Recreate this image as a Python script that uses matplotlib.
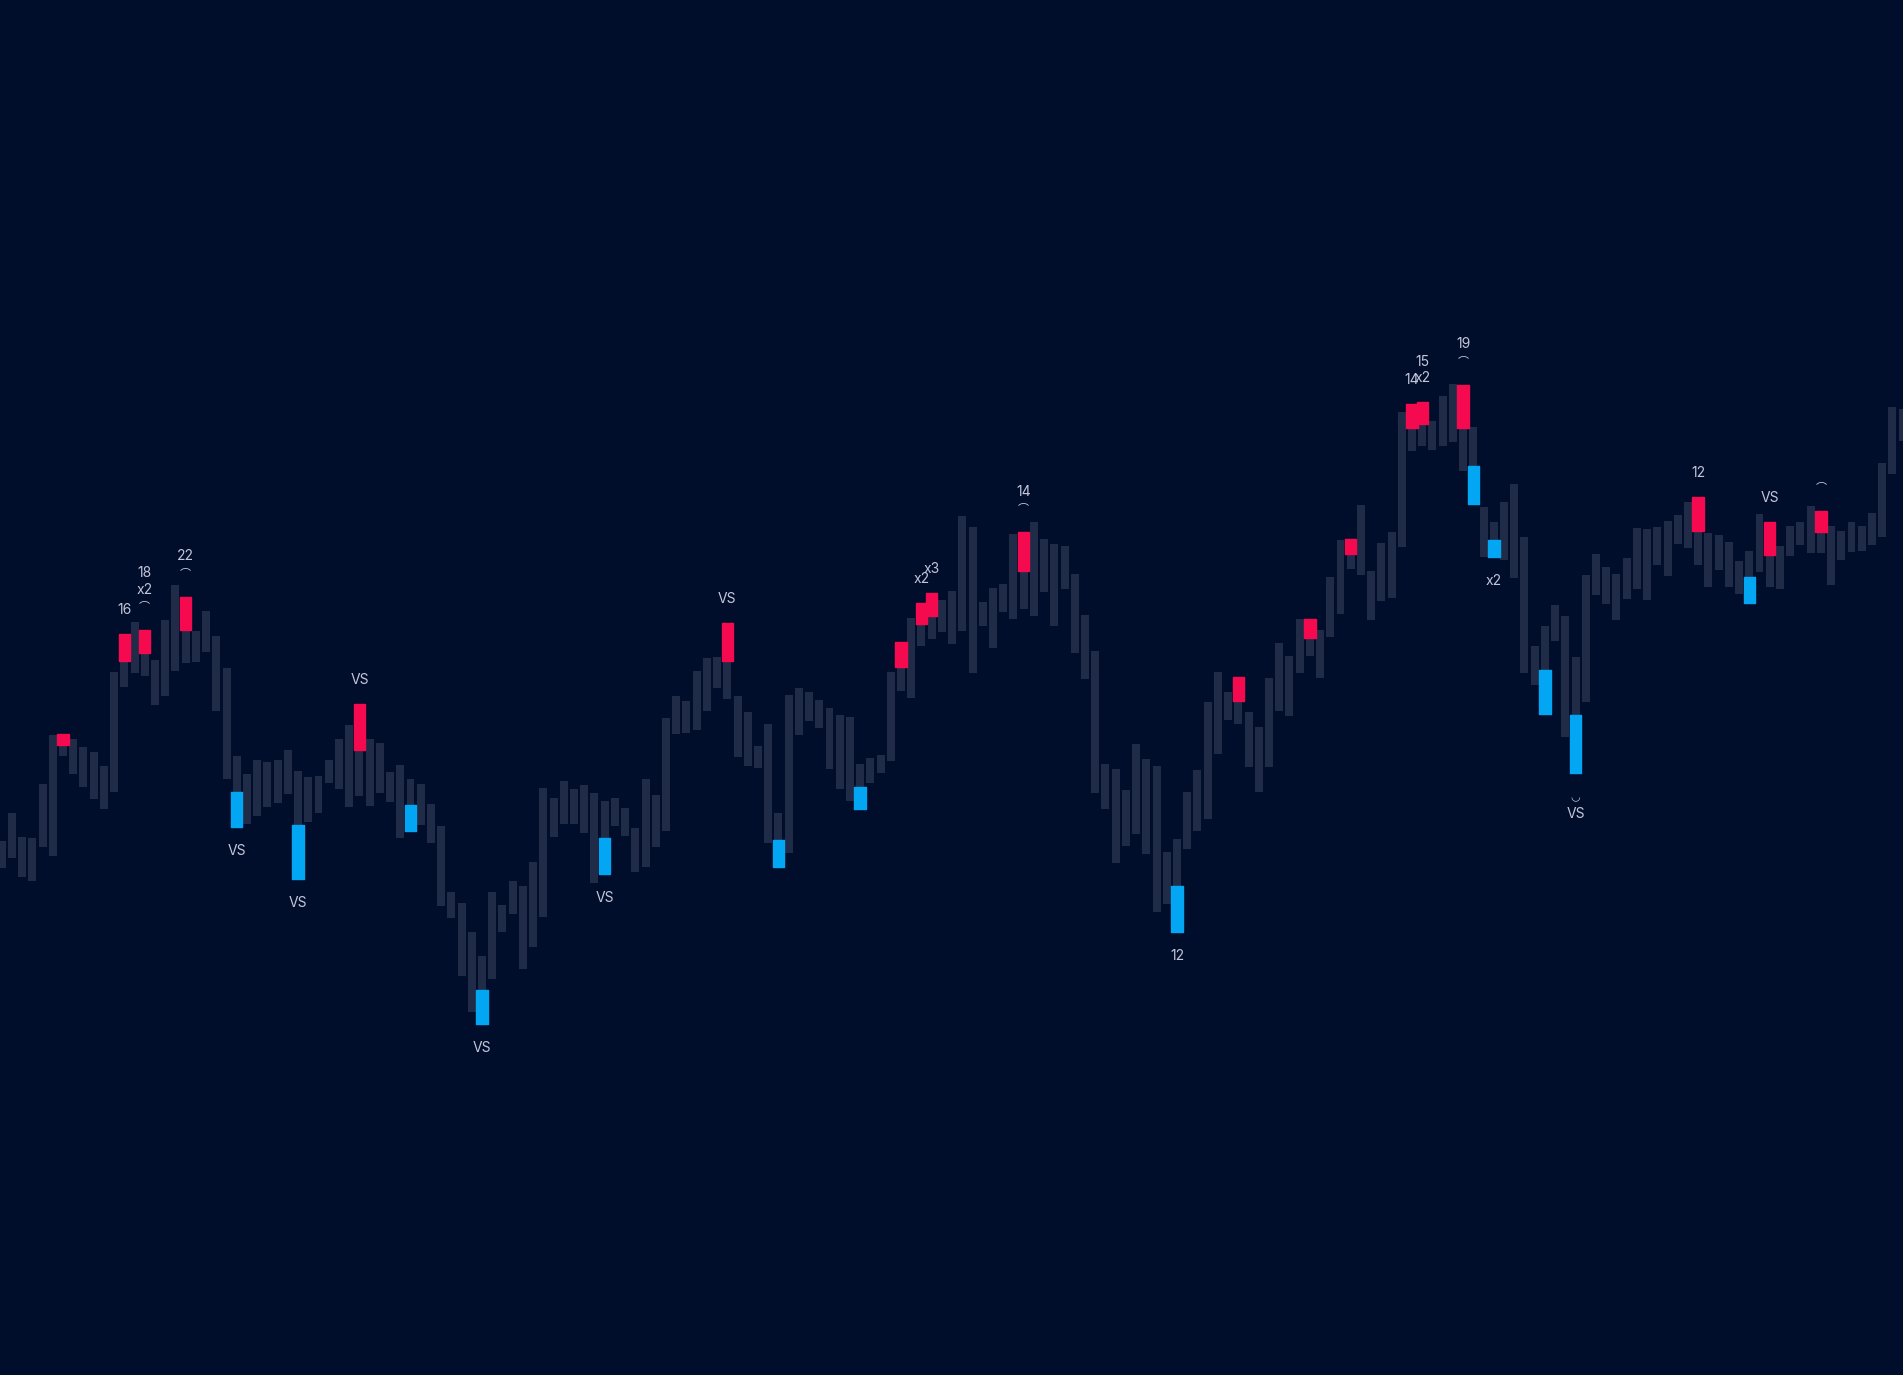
import matplotlib
matplotlib.use("Agg")
import matplotlib.pyplot as plt
import numpy as np

# bar ranges (low, high) for each session
lows = [
    50.7, 51.7, 49.8, 49.4, 52.8, 51.9, 61.9, 60.1, 58.8, 57.6,
    56.6, 58.3, 68.8, 70.2, 69.9, 67.0, 67.9, 70.4, 71.2, 71.3,
    72.3, 66.4, 59.6, 54.8, 55.1, 55.9, 56.8, 57.2, 58.1, 49.6,
    55.3, 56.2, 59.2, 58.6, 56.8, 57.9, 56.9, 58.2, 57.3, 53.7,
    54.4, 55.0, 53.2, 46.9, 45.7, 39.9, 36.3, 35.1, 39.6, 44.3,
    46.1, 40.6, 42.8, 45.8, 53.8, 55.1, 55.1, 54.2, 49.2, 50.1,
    54.9, 53.9, 50.3, 50.8, 52.8, 54.4, 64.1, 64.2, 64.5, 66.4,
    68.7, 67.6, 61.8, 60.9, 60.7, 53.2, 50.8, 52.2, 64.0, 65.4,
    64.7, 60.6, 58.6, 57.4, 56.6, 59.2, 60.2, 61.4, 68.4, 67.7,
    72.9, 73.6, 74.3, 73.1, 74.4, 70.2, 74.9, 72.7, 76.3, 75.6,
    76.6, 75.9, 78.3, 74.9, 78.6, 72.2, 69.6, 58.2, 56.6, 51.2,
    52.9, 54.1, 52.1, 46.3, 47.1, 44.3, 52.6, 54.4, 55.6, 62.1,
    65.5, 65.1, 60.8, 58.3, 60.8, 66.4, 65.9, 70.2, 71.9, 69.7,
    73.8, 76.1, 80.6, 80.0, 75.5, 77.4, 77.7, 82.8, 92.4, 92.9,
    92.5, 92.9, 93.3, 90.4, 87.1, 81.8, 81.8, 81.5, 79.7, 70.2,
    69.0, 66.1, 73.4, 63.8, 60.2, 67.3, 78.0, 77.1, 75.5, 77.6,
    78.6, 77.5, 81.0, 79.9, 83.1, 82.7, 81.0, 78.8, 80.5, 78.8,
    78.1, 77.2, 80.3, 78.8, 78.6, 81.9, 83.0, 82.2, 82.2, 79.0,
    81.5, 82.3, 82.4, 83.0, 83.8, 90.1, 93.4,
]
highs = [
    53.4, 56.2, 53.8, 53.7, 59.1, 64.0, 64.1, 63.6, 62.8, 62.3,
    60.9, 70.3, 74.1, 75.3, 74.5, 71.5, 75.5, 79.0, 77.8, 74.4,
    76.4, 73.9, 70.7, 61.9, 60.1, 61.5, 61.3, 61.5, 62.5, 60.4,
    59.8, 59.9, 61.5, 63.6, 65.0, 67.1, 63.6, 63.2, 60.3, 61.0,
    59.6, 59.1, 57.1, 54.9, 48.3, 47.2, 44.3, 41.9, 48.3, 47.0,
    49.4, 48.9, 51.3, 58.7, 57.7, 59.4, 58.6, 59.0, 58.2, 57.4,
    57.7, 56.7, 54.7, 59.6, 58.0, 65.7, 67.9, 67.4, 70.4, 71.7,
    71.8, 75.2, 67.9, 66.3, 62.9, 65.1, 56.2, 68.0, 68.7, 68.3,
    67.5, 66.7, 66.0, 65.8, 61.1, 61.7, 62.0, 70.3, 73.3, 75.7,
    77.2, 78.2, 77.5, 78.4, 85.9, 84.8, 77.3, 78.7, 79.1, 84.1,
    84.3, 85.3, 83.6, 83.1, 82.9, 80.1, 76.0, 72.4, 61.1, 60.6,
    58.5, 63.1, 61.6, 60.9, 52.3, 53.6, 58.3, 60.5, 67.3, 70.3,
    68.3, 69.8, 66.3, 64.8, 69.7, 73.2, 71.9, 75.6, 75.6, 74.5,
    79.8, 83.5, 83.6, 87.0, 80.4, 83.2, 84.3, 96.3, 97.1, 97.3,
    95.4, 97.9, 99.1, 99.0, 94.8, 86.8, 85.3, 87.3, 89.1, 83.8,
    72.9, 74.9, 77.0, 75.9, 71.8, 80.0, 82.1, 80.8, 80.1, 81.7,
    84.7, 84.6, 84.8, 85.4, 86.0, 87.3, 87.8, 84.2, 84.0, 83.3,
    81.4, 82.4, 86.1, 85.3, 82.9, 84.9, 85.3, 86.9, 86.4, 84.9,
    84.4, 85.3, 84.9, 86.2, 91.2, 96.8, 96.6,
]

# signal bars: index, direction (+1 = up / red, -1 = down / blue), labels (nearest first)
sig_idx = [6, 12, 14, 18, 23, 29, 35, 40, 47, 59, 71, 76, 84, 88, 90, 91,
           100, 115, 121, 128, 132, 138, 139, 143, 144, 146, 151, 154,
           166, 171, 173, 178]
sig_dir = [1, 1, 1, 1, -1, -1, 1, -1, -1, -1, 1, -1, -1, 1, 1, 1,
           1, -1, 1, 1, 1, 1, 1, 1, -1, -1, -1, -1,
           1, -1, 1, 1]
sig_labels = [[], ["16"], ["⌒", "x2", "18"], ["⌒", "22"], ["VS"], ["VS"], ["VS"], [], ["VS"], ["VS"], ["VS"], [], [], [], ["x2"], ["x3"],
              ["⌒", "14"], ["12"], [], [], [], ["14"], ["x2", "15"], ["⌒", "19"], [], ["x2"], [], ["◡", "VS"],
              ["12"], [], ["VS"], ["⌒"]]

bg = "#000d2b"
bar_color = "#1f2b47"
up_color = "#f5094f"
down_color = "#02a6f2"
text_color = "#c4c7da"
fonts = ["Inter", "Noto Sans CJK JP", "DejaVu Sans"]

lows = np.array(lows)
highs = np.array(highs)
x = np.arange(len(lows))

fig = plt.figure(figsize=(19.03, 13.75), dpi=100)
fig.patch.set_facecolor(bg)
ax = fig.add_axes([0, 0, 1, 1])
ax.set_facecolor(bg)

ax.bar(x, highs - lows, bottom=lows, width=0.78, color=bar_color, linewidth=0)

for i, d, labs in zip(sig_idx, sig_dir, sig_labels):
    mid = (lows[i] + highs[i]) / 2
    if d > 0:
        lo, hi, col = mid, highs[i], up_color
    else:
        lo, hi, col = lows[i], mid, down_color
    ax.bar(x[i], hi - lo, bottom=lo, width=1.12, color=col, edgecolor=col,
           linewidth=1.0, joinstyle="round", zorder=3)
    for k, lab in enumerate(labs):
        off = 24 + 16.5 * k
        fs = 10
        if lab in ("⌒", "◡"):
            fs = 8
        if d > 0:
            y0, dy = highs[i], off
        else:
            y0, dy = lows[i], -off
        ax.annotate(lab, (x[i], y0), xytext=(0, dy), textcoords="offset pixels",
                    ha="center", va="center", fontsize=fs, color=text_color,
                    family=fonts, zorder=4)

ax.set_xlim(-0.166, 186.04)
ax.set_ylim(0, 137.5)
ax.axis("off")

fig.savefig("out.png", dpi=100, facecolor=bg)
